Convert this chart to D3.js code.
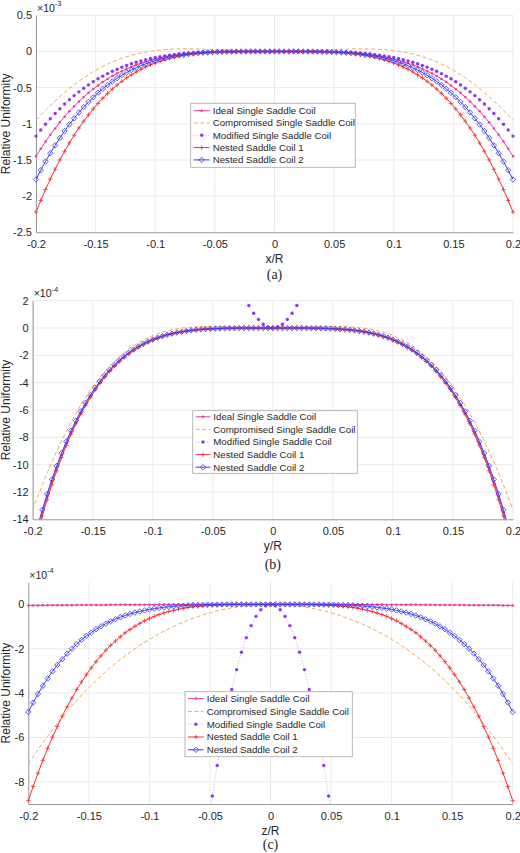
<!DOCTYPE html>
<html><head><meta charset="utf-8">
<script src="https://cdn.jsdelivr.net/npm/d3@7"></script>
<style>
body{margin:0;background:#fff}
svg{display:block}
text{font-family:"Liberation Sans",Arial,Helvetica,sans-serif;fill:#262626}
</style>
</head><body>
<svg id="chart" width="520" height="853"></svg>
<script>
// ---------------- DATA ----------------
const seriesNames = ["Ideal Single Saddle Coil","Compromised Single Saddle Coil","Modified Single Saddle Coil","Nested Saddle Coil 1","Nested Saddle Coil 2"];
const xTicks = [-0.2,-0.15,-0.1,-0.05,0,0.05,0.1,0.15,0.2];
const xTickLabels = ["-0.2","-0.15","-0.1","-0.05","0","0.05","0.1","0.15","0.2"];
const aYTicks = [0.5,0,-0.5,-1,-1.5,-2,-2.5];
const aYTickLabels = ["0.5","0","-0.5","-1","-1.5","-2","-2.5"];
const bYTicks = [2,0,-2,-4,-6,-8,-10,-12,-14];
const bYTickLabels = ["2","0","-2","-4","-6","-8","-10","-12","-14"];
const cYTicks = [0,-2,-4,-6,-8];
const cYTickLabels = ["0","-2","-4","-6","-8"];
const axisTitles = ["x/R","y/R","z/R"];
const panelLabels = ["(a)","(b)","(c)"];
const exponents = ["-3","-4","-4"];
const yTitle = "Relative Uniformity";

// sample positions along the axis (x/R, y/R or z/R), step 0.004
const xPos = d3.range(-50, 51).map(k => +(k * 0.004).toFixed(3));

// ---- panel (a), values in units of 1e-3 ----
const aIdeal = [
-1.450,-1.345,-1.246,-1.152,-1.064,-0.980,-0.901,-0.826,-0.757,-0.691,
-0.630,-0.572,-0.519,-0.469,-0.422,-0.379,-0.340,-0.303,-0.270,-0.239,
-0.210,-0.185,-0.161,-0.140,-0.121,-0.104,-0.089,-0.075,-0.063,-0.053,
-0.044,-0.036,-0.029,-0.023,-0.018,-0.014,-0.011,-0.008,-0.006,-0.004,
-0.003,-0.002,-0.001,-0.001,0,0,0,0,0,0,
0,
0,0,0,0,0,0,-0.001,-0.001,-0.002,-0.003,
-0.004,-0.006,-0.008,-0.011,-0.014,-0.018,-0.023,-0.029,-0.036,-0.044,
-0.053,-0.063,-0.075,-0.089,-0.104,-0.121,-0.140,-0.161,-0.185,-0.210,
-0.239,-0.270,-0.303,-0.340,-0.379,-0.422,-0.469,-0.519,-0.572,-0.630,
-0.691,-0.757,-0.826,-0.901,-0.980,-1.064,-1.152,-1.246,-1.345,-1.450];
const aComp = [
-0.950,-0.880,-0.813,-0.748,-0.685,-0.624,-0.566,-0.511,-0.459,-0.410,
-0.364,-0.320,-0.279,-0.242,-0.207,-0.175,-0.145,-0.118,-0.094,-0.073,
-0.053,-0.036,-0.021,-0.008,0.003,0.012,0.019,0.025,0.030,0.033,
0.035,0.036,0.036,0.036,0.034,0.032,0.030,0.028,0.025,0.022,
0.019,0.016,0.013,0.010,0.008,0.005,0.003,0.002,0.001,0,
0,
0,0.001,0.002,0.003,0.005,0.008,0.010,0.013,0.016,0.019,
0.022,0.025,0.028,0.030,0.032,0.034,0.036,0.036,0.036,0.035,
0.033,0.030,0.025,0.019,0.012,0.003,-0.008,-0.021,-0.036,-0.053,
-0.073,-0.094,-0.118,-0.145,-0.175,-0.207,-0.242,-0.279,-0.320,-0.364,
-0.410,-0.459,-0.511,-0.566,-0.624,-0.685,-0.748,-0.813,-0.880,-0.950];
const aMod = [
-1.170,-1.086,-1.006,-0.930,-0.858,-0.791,-0.727,-0.667,-0.610,-0.558,
-0.508,-0.462,-0.418,-0.378,-0.341,-0.306,-0.274,-0.245,-0.217,-0.193,
-0.170,-0.149,-0.130,-0.113,-0.098,-0.084,-0.072,-0.061,-0.051,-0.043,
-0.035,-0.029,-0.023,-0.019,-0.015,-0.011,-0.009,-0.007,-0.005,-0.003,
-0.002,-0.002,-0.001,-0.001,0,0,0,0,0,0,
0,
0,0,0,0,0,0,-0.001,-0.001,-0.002,-0.002,
-0.003,-0.005,-0.007,-0.009,-0.011,-0.015,-0.019,-0.023,-0.029,-0.035,
-0.043,-0.051,-0.061,-0.072,-0.084,-0.098,-0.113,-0.130,-0.149,-0.170,
-0.193,-0.217,-0.245,-0.274,-0.306,-0.341,-0.378,-0.418,-0.462,-0.508,
-0.558,-0.610,-0.667,-0.727,-0.791,-0.858,-0.930,-1.006,-1.086,-1.170];
const aNest1 = [
-2.220,-2.060,-1.908,-1.764,-1.629,-1.500,-1.379,-1.265,-1.158,-1.058,
-0.964,-0.876,-0.794,-0.718,-0.647,-0.581,-0.520,-0.464,-0.413,-0.365,
-0.322,-0.283,-0.247,-0.215,-0.186,-0.160,-0.136,-0.116,-0.097,-0.081,
-0.067,-0.055,-0.044,-0.036,-0.028,-0.022,-0.017,-0.012,-0.009,-0.006,
-0.004,-0.003,-0.002,-0.001,-0.001,0,0,0,0,0,
0,
0,0,0,0,0,-0.001,-0.001,-0.002,-0.003,-0.004,
-0.006,-0.009,-0.012,-0.017,-0.022,-0.028,-0.036,-0.044,-0.055,-0.067,
-0.081,-0.097,-0.116,-0.136,-0.160,-0.186,-0.215,-0.247,-0.283,-0.322,
-0.365,-0.413,-0.464,-0.520,-0.581,-0.647,-0.718,-0.794,-0.876,-0.964,
-1.058,-1.158,-1.265,-1.379,-1.500,-1.629,-1.764,-1.908,-2.060,-2.220];
const aNest2 = [
-1.770,-1.642,-1.521,-1.407,-1.298,-1.196,-1.100,-1.009,-0.924,-0.843,
-0.768,-0.698,-0.633,-0.572,-0.516,-0.463,-0.415,-0.370,-0.329,-0.291,
-0.257,-0.226,-0.197,-0.171,-0.148,-0.127,-0.109,-0.092,-0.077,-0.065,
-0.053,-0.044,-0.035,-0.028,-0.022,-0.017,-0.013,-0.010,-0.007,-0.005,
-0.004,-0.002,-0.001,-0.001,0,0,0,0,0,0,
0,
0,0,0,0,0,0,-0.001,-0.001,-0.002,-0.004,
-0.005,-0.007,-0.010,-0.013,-0.017,-0.022,-0.028,-0.035,-0.044,-0.053,
-0.065,-0.077,-0.092,-0.109,-0.127,-0.148,-0.171,-0.197,-0.226,-0.257,
-0.291,-0.329,-0.370,-0.415,-0.463,-0.516,-0.572,-0.633,-0.698,-0.768,
-0.843,-0.924,-1.009,-1.100,-1.196,-1.298,-1.407,-1.521,-1.642,-1.770];

// ---- panel (b), values in units of 1e-4 ----
const bIdeal = [
-16.10,-14.76,-13.51,-12.34,-11.26,-10.25,-9.31,-8.44,-7.63,-6.89,
-6.20,-5.57,-4.98,-4.45,-3.96,-3.52,-3.11,-2.74,-2.41,-2.11,
-1.84,-1.59,-1.37,-1.18,-1.01,-0.86,-0.72,-0.60,-0.50,-0.41,
-0.34,-0.27,-0.22,-0.17,-0.13,-0.10,-0.08,-0.06,-0.04,-0.03,
-0.02,-0.01,-0.01,0,0,0,0,0,0,0,
0,
0,0,0,0,0,0,0,-0.01,-0.01,-0.02,
-0.03,-0.04,-0.06,-0.08,-0.10,-0.13,-0.17,-0.22,-0.27,-0.34,
-0.41,-0.50,-0.60,-0.72,-0.86,-1.01,-1.18,-1.37,-1.59,-1.84,
-2.11,-2.41,-2.74,-3.11,-3.52,-3.96,-4.45,-4.98,-5.57,-6.20,
-6.89,-7.63,-8.44,-9.31,-10.25,-11.26,-12.34,-13.51,-14.76,-16.10];
const bComp = [
-13.30,-12.37,-11.48,-10.62,-9.80,-9.02,-8.27,-7.55,-6.88,-6.24,
-5.64,-5.08,-4.55,-4.06,-3.60,-3.18,-2.79,-2.43,-2.10,-1.80,
-1.53,-1.28,-1.06,-0.87,-0.70,-0.55,-0.42,-0.30,-0.21,-0.13,
-0.06,-0.01,0.03,0.06,0.08,0.10,0.10,0.10,0.10,0.09,
0.09,0.07,0.06,0.05,0.04,0.03,0.02,0.01,0,0,
0,
0,0,0.01,0.02,0.03,0.04,0.05,0.06,0.07,0.09,
0.09,0.10,0.10,0.10,0.10,0.08,0.06,0.03,-0.01,-0.06,
-0.13,-0.21,-0.30,-0.42,-0.55,-0.70,-0.87,-1.06,-1.28,-1.53,
-1.80,-2.10,-2.43,-2.79,-3.18,-3.60,-4.06,-4.55,-5.08,-5.64,
-6.24,-6.88,-7.55,-8.27,-9.02,-9.80,-10.62,-11.48,-12.37,-13.30];
const bModPos = [-0.028,-0.024,-0.02,-0.016,-0.012,-0.008,-0.004,0,0.004,0.008,0.012,0.016,0.02,0.024,0.028];
const bMod = [3.20,2.40,1.65,1.08,0.63,0.28,0.07,0,0.07,0.28,0.63,1.08,1.65,2.40,3.20];
const bNest1 = [
-16.40,-15.04,-13.76,-12.57,-11.47,-10.44,-9.48,-8.59,-7.77,-7.01,
-6.31,-5.67,-5.08,-4.53,-4.04,-3.58,-3.17,-2.79,-2.45,-2.15,
-1.87,-1.62,-1.40,-1.20,-1.03,-0.87,-0.73,-0.62,-0.51,-0.42,
-0.34,-0.28,-0.22,-0.18,-0.14,-0.10,-0.08,-0.06,-0.04,-0.03,
-0.02,-0.01,-0.01,0,0,0,0,0,0,0,
0,
0,0,0,0,0,0,0,-0.01,-0.01,-0.02,
-0.03,-0.04,-0.06,-0.08,-0.10,-0.14,-0.18,-0.22,-0.28,-0.34,
-0.42,-0.51,-0.62,-0.73,-0.87,-1.03,-1.20,-1.40,-1.62,-1.87,
-2.15,-2.45,-2.79,-3.17,-3.58,-4.04,-4.53,-5.08,-5.67,-6.31,
-7.01,-7.77,-8.59,-9.48,-10.44,-11.47,-12.57,-13.76,-15.04,-16.40];
const bNest2 = [
-15.85,-14.53,-13.30,-12.15,-11.08,-10.09,-9.16,-8.31,-7.51,-6.78,
-6.10,-5.48,-4.91,-4.38,-3.90,-3.46,-3.06,-2.70,-2.37,-2.08,
-1.81,-1.57,-1.35,-1.16,-0.99,-0.84,-0.71,-0.59,-0.49,-0.41,
-0.33,-0.27,-0.22,-0.17,-0.13,-0.10,-0.08,-0.06,-0.04,-0.03,
-0.02,-0.01,-0.01,0,0,0,0,0,0,0,
0,
0,0,0,0,0,0,0,-0.01,-0.01,-0.02,
-0.03,-0.04,-0.06,-0.08,-0.10,-0.13,-0.17,-0.22,-0.27,-0.33,
-0.41,-0.49,-0.59,-0.71,-0.84,-0.99,-1.16,-1.35,-1.57,-1.81,
-2.08,-2.37,-2.70,-3.06,-3.46,-3.90,-4.38,-4.91,-5.48,-6.10,
-6.78,-7.51,-8.31,-9.16,-10.09,-11.08,-12.15,-13.30,-14.53,-15.85];

// ---- panel (c), values in units of 1e-4 ----
const cIdeal = [
-0.050,-0.048,-0.046,-0.044,-0.042,-0.041,-0.039,-0.037,-0.035,-0.034,
-0.032,-0.030,-0.029,-0.027,-0.026,-0.025,-0.023,-0.022,-0.020,-0.019,
-0.018,-0.017,-0.016,-0.015,-0.014,-0.013,-0.012,-0.011,-0.010,-0.009,
-0.008,-0.007,-0.006,-0.006,-0.005,-0.005,-0.004,-0.003,-0.003,-0.002,
-0.002,-0.002,-0.001,-0.001,-0.001,-0.001,0,0,0,0,
0,
0,0,0,0,-0.001,-0.001,-0.001,-0.001,-0.002,-0.002,
-0.002,-0.003,-0.003,-0.004,-0.005,-0.005,-0.006,-0.006,-0.007,-0.008,
-0.009,-0.010,-0.011,-0.012,-0.013,-0.014,-0.015,-0.016,-0.017,-0.018,
-0.019,-0.020,-0.022,-0.023,-0.025,-0.026,-0.027,-0.029,-0.030,-0.032,
-0.034,-0.035,-0.037,-0.039,-0.041,-0.042,-0.044,-0.046,-0.048,-0.050];
const cComp = [
-7.20,-6.87,-6.55,-6.24,-5.94,-5.65,-5.37,-5.09,-4.83,-4.58,
-4.33,-4.09,-3.87,-3.65,-3.43,-3.23,-3.03,-2.84,-2.66,-2.48,
-2.32,-2.15,-2.00,-1.85,-1.71,-1.58,-1.45,-1.32,-1.21,-1.10,
-0.99,-0.89,-0.80,-0.71,-0.63,-0.55,-0.48,-0.41,-0.35,-0.29,
-0.24,-0.20,-0.15,-0.12,-0.09,-0.06,-0.04,-0.02,-0.01,0,
0,
0,-0.01,-0.02,-0.04,-0.06,-0.09,-0.12,-0.15,-0.20,-0.24,
-0.29,-0.35,-0.41,-0.48,-0.55,-0.63,-0.71,-0.80,-0.89,-0.99,
-1.10,-1.21,-1.32,-1.45,-1.58,-1.71,-1.85,-2.00,-2.15,-2.32,
-2.48,-2.66,-2.84,-3.03,-3.23,-3.43,-3.65,-3.87,-4.09,-4.33,
-4.58,-4.83,-5.09,-5.37,-5.65,-5.94,-6.24,-6.55,-6.87,-7.20];
const cModPos = [-0.052,-0.048,-0.044,-0.04,-0.036,-0.032,-0.028,-0.024,-0.02,-0.016,-0.012,-0.008,-0.004,0,
0.004,0.008,0.012,0.016,0.02,0.024,0.028,0.032,0.036,0.04,0.044,0.048,0.052];
const cMod = [-10.14,-8.64,-7.26,-6.00,-4.86,-3.84,-2.94,-2.16,-1.50,-0.96,-0.54,-0.24,-0.06,0,
-0.06,-0.24,-0.54,-0.96,-1.50,-2.16,-2.94,-3.84,-4.86,-6.00,-7.26,-8.64,-10.14];
const cNest1 = [
-8.85,-8.21,-7.61,-7.03,-6.49,-5.98,-5.50,-5.04,-4.62,-4.22,
-3.84,-3.49,-3.17,-2.86,-2.58,-2.32,-2.07,-1.85,-1.65,-1.46,
-1.28,-1.13,-0.99,-0.86,-0.74,-0.64,-0.54,-0.46,-0.39,-0.32,
-0.27,-0.22,-0.18,-0.14,-0.11,-0.09,-0.07,-0.05,-0.04,-0.03,
-0.02,-0.01,-0.01,0,0,0,0,0,0,0,
0,
0,0,0,0,0,0,0,-0.01,-0.01,-0.02,
-0.03,-0.04,-0.05,-0.07,-0.09,-0.11,-0.14,-0.18,-0.22,-0.27,
-0.32,-0.39,-0.46,-0.54,-0.64,-0.74,-0.86,-0.99,-1.13,-1.28,
-1.46,-1.65,-1.85,-2.07,-2.32,-2.58,-2.86,-3.17,-3.49,-3.84,
-4.22,-4.62,-5.04,-5.50,-5.98,-6.49,-7.03,-7.61,-8.21,-8.85];
const cNest2 = [
-4.85,-4.43,-4.04,-3.67,-3.34,-3.02,-2.73,-2.47,-2.22,-2.00,
-1.79,-1.60,-1.42,-1.27,-1.12,-0.99,-0.87,-0.76,-0.67,-0.58,
-0.50,-0.43,-0.37,-0.32,-0.27,-0.23,-0.19,-0.16,-0.13,-0.11,
-0.09,-0.07,-0.06,-0.04,-0.03,-0.03,-0.02,-0.01,-0.01,-0.01,
0,0,0,0,0,0,0,0,0,0,
0,
0,0,0,0,0,0,0,0,0,0,
-0.01,-0.01,-0.01,-0.02,-0.03,-0.03,-0.04,-0.06,-0.07,-0.09,
-0.11,-0.13,-0.16,-0.19,-0.23,-0.27,-0.32,-0.37,-0.43,-0.50,
-0.58,-0.67,-0.76,-0.87,-0.99,-1.12,-1.27,-1.42,-1.60,-1.79,
-2.00,-2.22,-2.47,-2.73,-3.02,-3.34,-3.67,-4.04,-4.43,-4.85];

// ---------------- STYLE ----------------
const styles = [
  {color:"#ee3c9e", width:1, dash:null, marker:"dot", mColor:"#ee3c9e", r:1.25},
  {color:"#f3a95c", width:1, dash:"4,2.5", marker:null},
  {color:"#c8a4f0", width:0.8, dash:"1.2,1.6", marker:"dot", mColor:"#8b3ce6", r:1.7},
  {color:"#f23232", width:1, dash:null, marker:"plus", mColor:"#f23232"},
  {color:"#3c3cf2", width:1, dash:null, marker:"diamond", mColor:"#3c3cf2"}
];

const panels = [
  {left:36, right:513, top:15.3, bottom:232.3, yDomain:[-2.5,0.5], yTicks:aYTicks, yLabels:aYTickLabels,
   labelY:279, legend:{x:190.7,y:103.3,w:164.6,h:64,step:12.3,tx:22},
   series:[[xPos,aIdeal],[xPos,aComp],[xPos,aMod],[xPos,aNest1],[xPos,aNest2]]},
  {left:32.7, right:513, top:300.7, bottom:519.3, yDomain:[-14,2], yTicks:bYTicks, yLabels:bYTickLabels,
   labelY:569, legend:{x:192.7,y:410.7,w:164.6,h:62.6,step:12.6,tx:20.6},
   series:[[xPos,bIdeal],[xPos,bComp],[bModPos,bMod],[xPos,bNest1],[xPos,bNest2]]},
  {left:28.3, right:512.7, top:582.2, bottom:804, yDomain:[-9,1], yTicks:cYTicks, yLabels:cYTickLabels,
   labelY:849, legend:{x:185,y:691.7,w:167.3,h:65,step:12.8,tx:21.7},
   series:[[xPos,cIdeal],[xPos,cComp],[cModPos,cMod],[xPos,cNest1],[xPos,cNest2]]}
];

const svg = d3.select("#chart");
svg.append("rect").attr("width",520).attr("height",853).attr("fill","#fff");

function drawMarker(g, type, cx, cy, st, scale) {
  const s = scale || 1;
  if (type === "dot") {
    g.append("circle").attr("cx",cx).attr("cy",cy).attr("r",st.r*s).attr("fill",st.mColor);
  } else if (type === "plus") {
    g.append("path").attr("d",`M${cx-2.2},${cy}H${cx+2.2}M${cx},${cy-2.2}V${cy+2.2}`)
      .attr("stroke",st.mColor).attr("stroke-width",0.8).attr("fill","none");
  } else if (type === "diamond") {
    const d = 2.7;
    g.append("path").attr("d",`M${cx},${cy-d}L${cx+d},${cy}L${cx},${cy+d}L${cx-d},${cy}Z`)
      .attr("stroke",st.mColor).attr("stroke-width",0.85).attr("fill","none");
  }
}

panels.forEach((p, pi) => {
  const x = d3.scaleLinear().domain([-0.2,0.2]).range([p.left,p.right]);
  const y = d3.scaleLinear().domain(p.yDomain).range([p.bottom,p.top]);
  const g = svg.append("g");

  // grid
  g.append("g").selectAll("line").data(xTicks).join("line")
    .attr("x1",d=>x(d)).attr("x2",d=>x(d)).attr("y1",p.top).attr("y2",p.bottom)
    .attr("stroke","#ebebeb").attr("stroke-width",1);
  g.append("g").selectAll("line").data(p.yTicks).join("line")
    .attr("y1",d=>y(d)).attr("y2",d=>y(d)).attr("x1",p.left).attr("x2",p.right)
    .attr("stroke","#ebebeb").attr("stroke-width",1);

  // axes
  const xAxis = d3.axisBottom(x).tickValues(xTicks).tickFormat((d,i)=>xTickLabels[i]).tickSize(0).tickPadding(0);
  const ax = g.append("g").attr("transform",`translate(0,${p.bottom})`).call(xAxis);
  ax.select(".domain").attr("stroke","#9a9a9a");
  ax.selectAll("text").attr("y",15.5).attr("dy",null).attr("font-size",11).attr("fill","#262626")
    .attr("font-family","Liberation Sans, Arial, sans-serif");
  const yAxis = d3.axisLeft(y).tickValues(p.yTicks).tickFormat((d,i)=>p.yLabels[i]).tickSize(0).tickPadding(4);
  const ay = g.append("g").attr("transform",`translate(${p.left},0)`).call(yAxis);
  ay.select(".domain").attr("stroke","#9a9a9a");
  ay.selectAll("text").attr("font-size",11).attr("fill","#262626").attr("font-family","Liberation Sans, Arial, sans-serif");

  // exponent
  g.append("text").attr("x",p.left+1).attr("y",p.top-3.6).attr("font-size",10.5)
    .text("×10").append("tspan").attr("dy",-5.5).attr("font-size",7.5).text(exponents[pi]);

  // titles
  g.append("text").attr("x",(p.left+p.right)/2).attr("y",p.bottom+30.5).attr("text-anchor","middle")
    .attr("font-size",12).text(axisTitles[pi]);
  g.append("text").attr("transform",`translate(10,${(p.top+p.bottom)/2}) rotate(-90)`)
    .attr("text-anchor","middle").attr("font-size",12).text(yTitle);
  g.append("text").attr("x",(p.left+p.right)/2).attr("y",p.labelY).attr("text-anchor","middle")
    .attr("font-size",14).style("font-family","'Liberation Serif','Times New Roman',serif").text(panelLabels[pi]);

  // clip
  const cid = "clip"+pi;
  svg.append("clipPath").attr("id",cid).append("rect")
    .attr("x",p.left).attr("y",p.top).attr("width",p.right-p.left).attr("height",p.bottom-p.top);

  const [ymin,ymax] = p.yDomain;
  p.series.forEach((s, si) => {
    const st = styles[si];
    const pts = s[0].map((xv,i)=>[xv,s[1][i]]).filter(d=>d[1]!=null);
    const line = d3.line().x(d=>x(d[0])).y(d=>y(d[1]));
    g.append("path").attr("d",line(pts)).attr("fill","none").attr("stroke",st.color)
      .attr("stroke-width",st.width).attr("stroke-dasharray",st.dash).attr("clip-path",`url(#${cid})`);
    if (st.marker) {
      const mg = g.append("g");
      pts.filter(d=>d[1]>=ymin && d[1]<=ymax).forEach(d=>drawMarker(mg, st.marker, x(d[0]), y(d[1]), st));
    }
  });

  // legend
  const L = p.legend;
  const lg = g.append("g");
  lg.append("rect").attr("x",L.x).attr("y",L.y).attr("width",L.w).attr("height",L.h)
    .attr("fill","#fff").attr("stroke","#a8a8a8").attr("stroke-width",0.8);
  seriesNames.forEach((name, i) => {
    const st = styles[i];
    const ry = L.y + L.h/2 + (i-2)*L.step;
    lg.append("line").attr("x1",L.x+3).attr("x2",L.x+L.tx-3).attr("y1",ry).attr("y2",ry)
      .attr("stroke",st.color).attr("stroke-width",st.width).attr("stroke-dasharray",st.dash);
    if (st.marker) drawMarker(lg, st.marker, L.x+L.tx/2, ry, st);
    lg.append("text").attr("x",L.x+L.tx).attr("y",ry).attr("dy","0.35em").attr("font-size",9.7).text(name);
  });
});
</script>
</body></html>
